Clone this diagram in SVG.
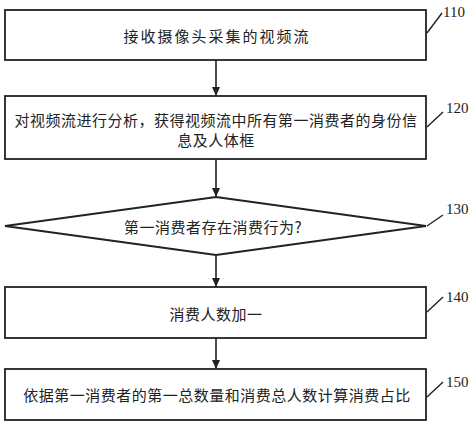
<svg xmlns="http://www.w3.org/2000/svg" width="474" height="425" viewBox="0 0 474 425">
<style>
.n{fill:#fff;stroke:#222;stroke-width:1.8}
.t{font-family:"Noto Sans CJK SC","Liberation Serif",serif;font-size:15px;letter-spacing:0.5px;fill:#222;text-anchor:middle;dominant-baseline:central}
.l{font-family:"Liberation Serif",serif;font-size:15px;fill:#222}
.c{stroke:#222;stroke-width:1.6;fill:none}
.ld{stroke:#222;stroke-width:1.4;fill:none}
</style>
<defs>
<marker id="a" markerWidth="10" markerHeight="10" refX="9" refY="5" orient="auto" markerUnits="userSpaceOnUse">
<path d="M0,1 L9,5 L0,9 Z" fill="#222"/>
</marker>
</defs>
<g id="connectors">
<line class="c" x1="216" y1="60" x2="216" y2="96" marker-end="url(#a)"/>
<line class="c" x1="216" y1="159" x2="216" y2="197" marker-end="url(#a)"/>
<line class="c" x1="216" y1="255" x2="216" y2="287" marker-end="url(#a)"/>
<line class="c" x1="216" y1="338" x2="216" y2="369" marker-end="url(#a)"/>
</g>
<g id="n110">
<rect class="n" x="5" y="10" width="421" height="50"/>
<text class="t" x="217" y="35" style="letter-spacing:2px">接收摄像头采集的视频流</text>
<path class="ld" d="M427,33 L442,13"/>
<text class="l" x="443" y="17">110</text>
</g>
<g id="n120">
<rect class="n" x="5" y="96" width="421" height="63"/>
<text class="t" x="216" y="119">对视频流进行分析，获得视频流中所有第一消费者的身份信</text>
<text class="t" x="216" y="139">息及人体框</text>
<path class="ld" d="M427,127 L443,112"/>
<text class="l" x="446" y="113">120</text>
</g>
<g id="n130">
<polygon class="n" points="216,197 426,226 216,255 5,226"/>
<text class="t" x="213" y="226">第一消费者存在消费行为?</text>
<path class="ld" d="M427,226 L443,215"/>
<text class="l" x="446" y="214">130</text>
</g>
<g id="n140">
<rect class="n" x="5" y="287" width="421" height="51"/>
<text class="t" x="216" y="313">消费人数加一</text>
<path class="ld" d="M427,312 L443,297"/>
<text class="l" x="446" y="302">140</text>
</g>
<g id="n150">
<rect class="n" x="5" y="369" width="421" height="51"/>
<text class="t" x="217" y="394">依据第一消费者的第一总数量和消费总人数计算消费占比</text>
<path class="ld" d="M427,397 L443,382"/>
<text class="l" x="446" y="387">150</text>
</g>
</svg>
